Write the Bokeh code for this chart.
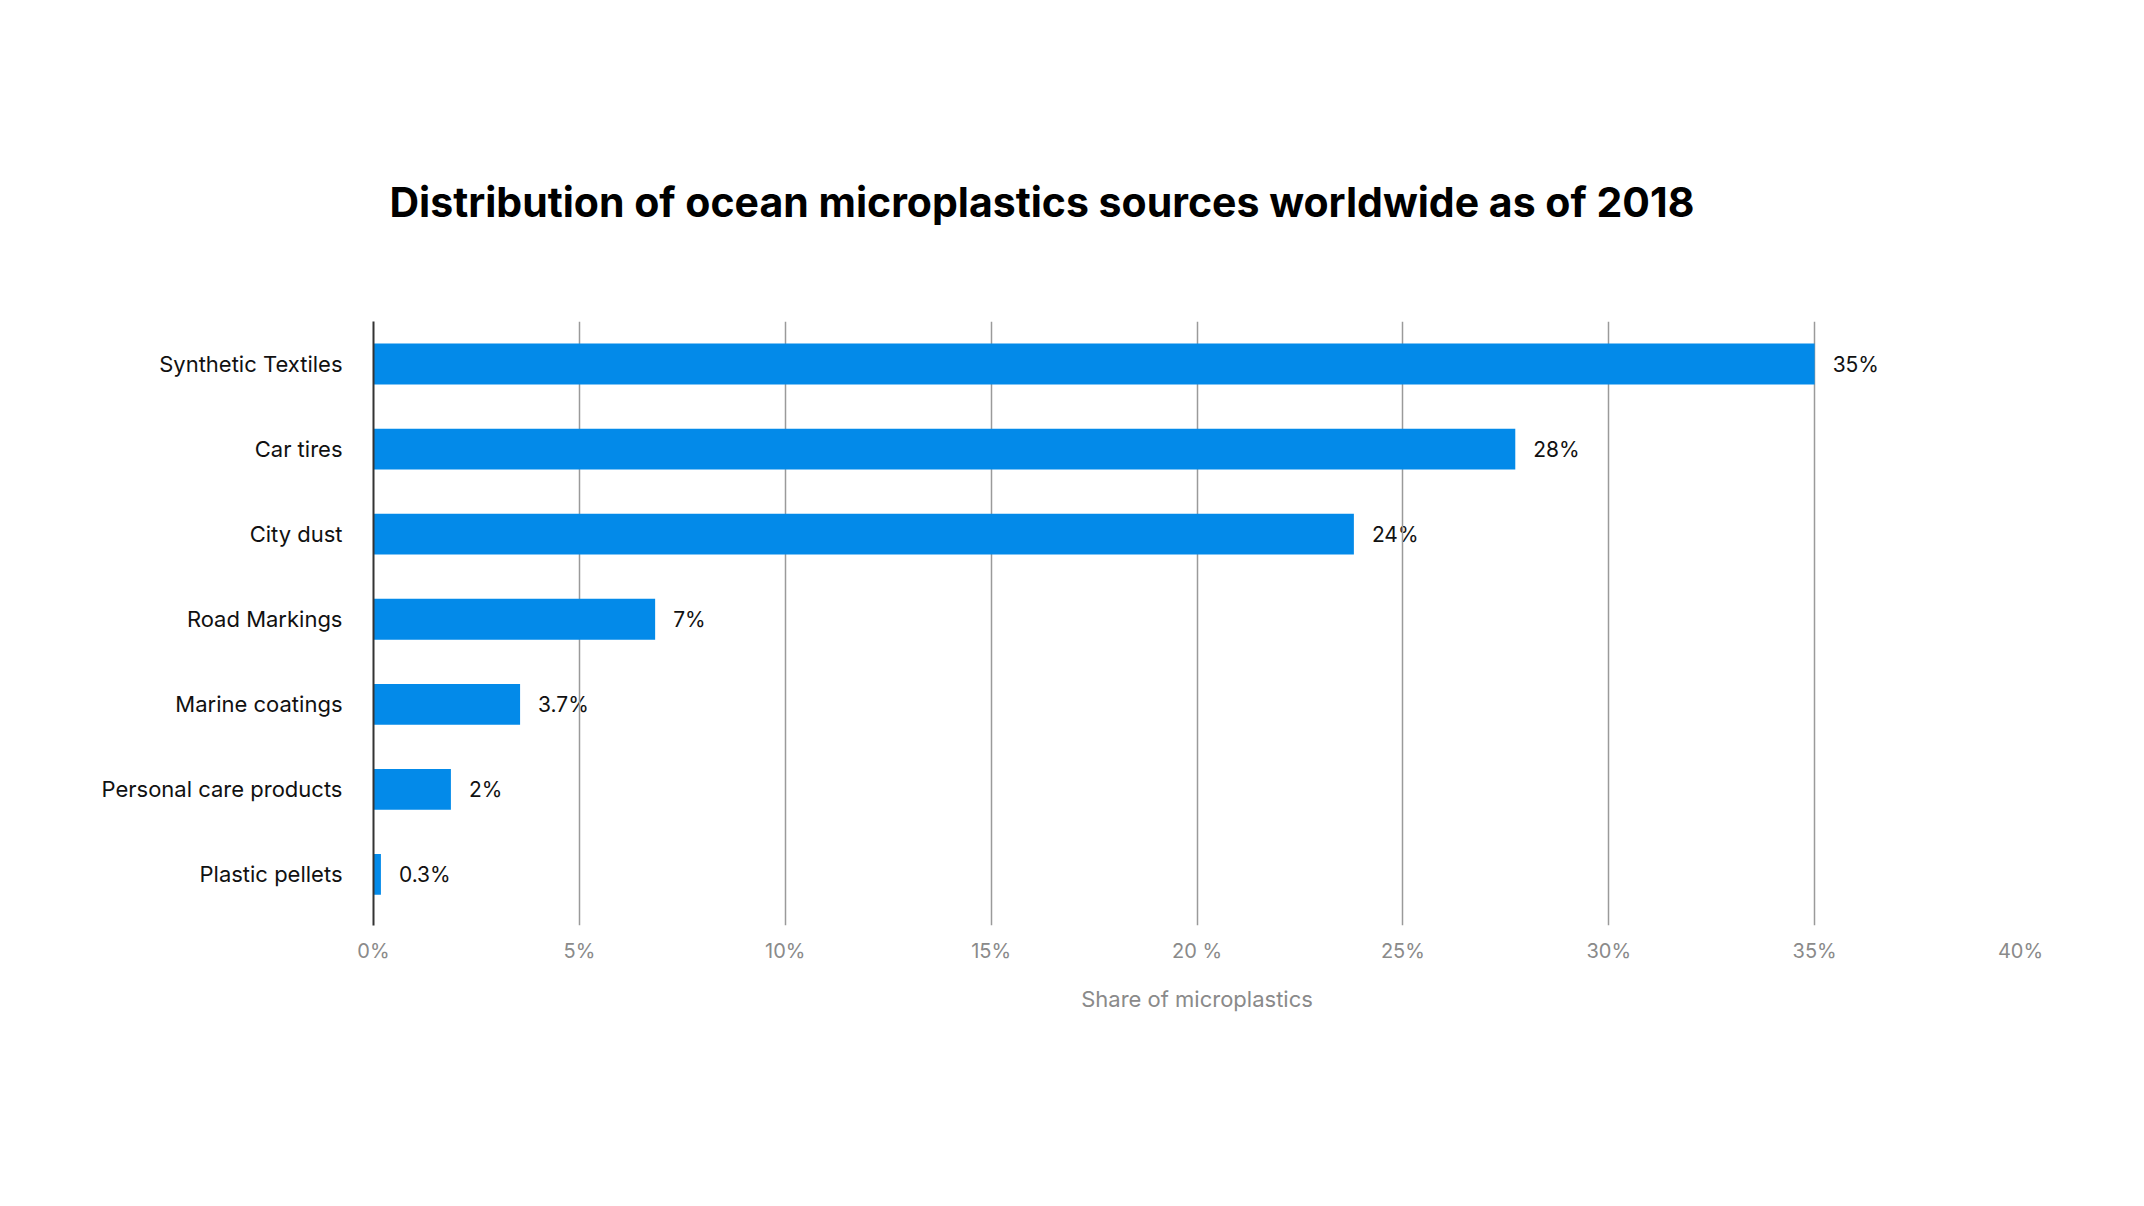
from bokeh.plotting import figure
from bokeh.models import Range1d, FixedTicker, ColumnDataSource, Title
from bokeh.core.properties import value
from bokeh.embed import file_html
from bokeh.resources import INLINE

categories = ["Synthetic Textiles", "Car tires", "City dust", "Road Markings",
              "Marine coatings", "Personal care products", "Plastic pellets"]
shares = [35.0, 27.73, 23.81, 6.84, 3.56, 1.88, 0.18]
value_labels = ["35%", "28%", "24%", "7%", "3.7%", "2%", "0.3%"]
x_ticks = [0, 5, 10, 15, 20, 25, 30, 35, 40]
x_tick_labels = ["0%", "5%", "10%", "15%", "20 %", "25%", "30%", "35%", "40%"]

FONT = "Inter"
n = len(categories)
ypos = [n - 1 - i for i in range(n)]

src = ColumnDataSource(dict(y=ypos, share=shares, lab=value_labels))

p = figure(width=2144, height=1206, output_backend="svg", toolbar_location=None,
           x_range=Range1d(0, 40), y_range=Range1d(-0.6, 6.5))
p.min_border_left = 373
p.min_border_right = 124
p.min_border_top = 321
p.min_border_bottom = 281
p.outline_line_color = None
p.background_fill_color = "white"
p.border_fill_color = "white"

p.hbar(y="y", left=0, right="share", height=0.48, source=src,
       fill_color="#038AE9", line_color=None)

r = p.text(x="share", y="y", text="lab", source=src, x_offset=18,
           text_align="left", text_baseline="middle",
           text_font=value(FONT), text_font_size="21px", text_color="#111111")
r.level = "image"

# grid
p.ygrid.grid_line_color = None
p.xgrid.ticker = FixedTicker(ticks=x_ticks)
p.xgrid.grid_line_color = "#9a9a9a"
p.xgrid.grid_line_width = 1.5

# x axis
p.xaxis.ticker = FixedTicker(ticks=x_ticks)
p.xaxis.major_label_overrides = {t: l for t, l in zip(x_ticks, x_tick_labels)}
p.xaxis.axis_line_color = None
p.xaxis.major_tick_line_color = None
p.xaxis.minor_tick_line_color = None
p.xaxis.major_label_text_font = FONT
p.xaxis.major_label_text_font_size = "20px"
p.xaxis.major_label_text_color = "#8a8a8a"
p.xaxis.major_label_standoff = 7
p.xaxis.axis_label = "Share of microplastics"
p.xaxis.axis_label_text_font = FONT
p.xaxis.axis_label_text_font_size = "22px"
p.xaxis.axis_label_text_font_style = "normal"
p.xaxis.axis_label_text_color = "#8a8a8a"
p.xaxis.axis_label_standoff = 20

# y axis
p.yaxis.ticker = FixedTicker(ticks=ypos)
p.yaxis.major_label_overrides = {y: c for y, c in zip(ypos, categories)}
p.yaxis.axis_line_color = "#333333"
p.yaxis.axis_line_width = 2
p.yaxis.major_tick_line_color = None
p.yaxis.minor_tick_line_color = None
p.yaxis.major_tick_in = 0
p.yaxis.major_tick_out = 0
p.yaxis.major_label_standoff = 31
p.yaxis.major_label_text_font = FONT
p.yaxis.major_label_text_font_size = "22px"
p.yaxis.major_label_text_color = "#111111"

title = Title(text="Distribution of ocean microplastics sources worldwide as of 2018",
              text_font=FONT, text_font_size="41px", text_font_style="bold",
              text_color="#000000", align="left", offset=16, standoff=190)
p.add_layout(title, "above")

open("out.html", "w").write(file_html(p, INLINE))
